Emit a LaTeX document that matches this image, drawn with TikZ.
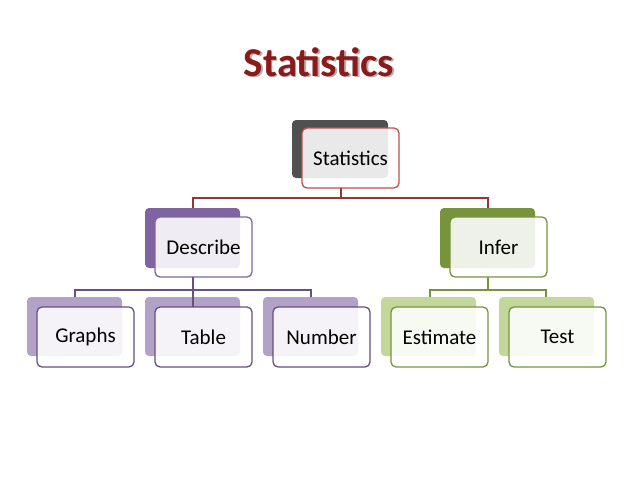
\documentclass[tikz,border=0pt]{standalone}
\usepackage{fontspec}
\setmainfont{Carlito}
\begin{document}
\begin{tikzpicture}[x=1pt,y=-1pt,
  back/.style={rounded corners=4pt,draw=none},
  front/.style={rounded corners=5pt,fill=white,fill opacity=0.88,text opacity=1,line width=1.3pt,font=\fontsize{21}{24}\selectfont},
  conn/.style={line width=1.4pt}]
\useasboundingbox (0,0) rectangle (638,479);
\definecolor{tred}{HTML}{8B1A1A}
\definecolor{bred}{HTML}{C0504D}
\definecolor{dgray}{HTML}{505050}
\definecolor{purp}{HTML}{8064A2}
\definecolor{lpurp}{HTML}{B3A2C7}
\definecolor{grn}{HTML}{77933C}
\definecolor{lgrn}{HTML}{C3D69B}
\definecolor{redline}{HTML}{953735}
\node[font=\bfseries\fontsize{41}{46}\selectfont,text=gray!60] at (320.5,63.5) {Statistics};
\node[font=\bfseries\fontsize{41}{46}\selectfont,text=tred] (title) at (319,62) {Statistics};
% backs
\fill[back,dgray] (292,120) rectangle (388,178);
\fill[back,purp] (145,208) rectangle (240,268);
\fill[back,grn] (440,208) rectangle (535,268);
\foreach \x in {27,145,263}{\fill[back,lpurp] (\x,297) rectangle (\x+95,356);}
\foreach \x in {381,499}{\fill[back,lgrn] (\x,297) rectangle (\x+95,356);}
% fronts
\node[front,draw=bred,minimum width=97pt,minimum height=60pt] (s) at (350.5,158) {Statistics};
\node[front,draw=purp,minimum width=97pt,minimum height=60pt] (d) at (203.5,247) {Describe};
\node[front,draw=grn,minimum width=97pt,minimum height=60pt] (i) at (498.5,247) {Infer};
\node[front,draw=purp!80!black,minimum width=97pt,minimum height=60pt] (g) at (85.5,337) {Graphs};
\node[front,draw=purp!80!black,minimum width=97pt,minimum height=60pt] (t) at (203.5,337) {Table};
\node[front,draw=purp!80!black,minimum width=97pt,minimum height=60pt] (n) at (321.5,337) {Number};
\node[front,draw=grn,minimum width=97pt,minimum height=60pt] (e) at (439.5,337) {Estimate};
\node[front,draw=grn,minimum width=97pt,minimum height=60pt] (te) at (557.5,337) {Test};
% connectors
\draw[conn,redline] (341,188) -- (341,198);
\draw[conn,redline] (193,208) -- (193,198) -- (488,198) -- (488,208);
\draw[conn,purp!80!black] (193,277) -- (193,290);
\draw[conn,purp!80!black] (75,297) -- (75,290) -- (311,290) -- (311,297);
\draw[conn,purp!80!black] (193,290) -- (193,307);
\draw[conn,grn] (488,277) -- (488,290);
\draw[conn,grn] (430,297) -- (430,290) -- (546,290) -- (546,297);
\end{tikzpicture}
\end{document}
